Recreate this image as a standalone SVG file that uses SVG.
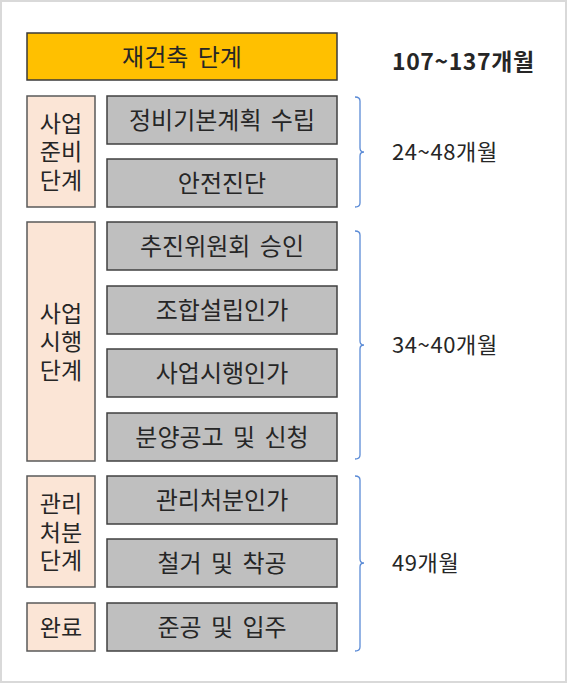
<svg xmlns="http://www.w3.org/2000/svg" width="568" height="684" viewBox="0 0 568 684">
<style>
text{font-family:"Noto Sans CJK KR","Malgun Gothic","Liberation Sans",sans-serif;fill:#262626;font-size:24px;word-spacing:4px}
.c{text-anchor:middle}
.st{font-size:23px}
.yel{fill:#FFC000;stroke:#3a3a3a;stroke-width:1.5}
.stage{fill:#FBE5D6;stroke:#595959;stroke-width:1.5}
.step{fill:#BFBFBF;stroke:#404040;stroke-width:1.5}
.br{fill:none;stroke:#5B8BD6;stroke-width:1.3}
.dur{font-size:22px;letter-spacing:0.6px}
</style>
<rect x="1" y="1" width="565" height="681" fill="#ffffff" stroke="#d9d9d9" stroke-width="2"/>

<g id="title">
<rect class="yel" x="27" y="33" width="310" height="47"/>
<text class="c" x="182" y="66">재건축 단계</text>
</g>
<text id="total" x="392" y="70" style="font-weight:bold;font-size:23px;letter-spacing:0.6px">107~137개월</text>

<g id="stage1">
<rect class="stage" x="27" y="96" width="68" height="111"/>
<text class="c st" x="61" y="131.5"><tspan x="61">사업</tspan><tspan x="61" dy="28.5">준비</tspan><tspan x="61" dy="28.5">단계</tspan></text>
</g>
<g id="s1a"><rect class="step" x="107" y="96" width="230" height="48"/><text class="c" x="222" y="129">정비기본계획 수립</text></g>
<g id="s1b"><rect class="step" x="107" y="159" width="230" height="48"/><text class="c" x="222" y="192">안전진단</text></g>

<g id="stage2">
<rect class="stage" x="27" y="222" width="68" height="239"/>
<text class="c st" x="61" y="321.5"><tspan x="61">사업</tspan><tspan x="61" dy="28.5">시행</tspan><tspan x="61" dy="28.5">단계</tspan></text>
</g>
<g id="s2a"><rect class="step" x="107" y="222" width="230" height="48"/><text class="c" x="222" y="255">추진위원회 승인</text></g>
<g id="s2b"><rect class="step" x="107" y="286" width="230" height="48"/><text class="c" x="222" y="319">조합설립인가</text></g>
<g id="s2c"><rect class="step" x="107" y="349" width="230" height="48"/><text class="c" x="222" y="382">사업시행인가</text></g>
<g id="s2d"><rect class="step" x="107" y="413" width="230" height="48"/><text class="c" x="222" y="446">분양공고 및 신청</text></g>

<g id="stage3">
<rect class="stage" x="27" y="476" width="68" height="111"/>
<text class="c st" x="61" y="512"><tspan x="61">관리</tspan><tspan x="61" dy="28.5">처분</tspan><tspan x="61" dy="28.5">단계</tspan></text>
</g>
<g id="s3a"><rect class="step" x="107" y="476" width="230" height="48"/><text class="c" x="222" y="509">관리처분인가</text></g>
<g id="s3b"><rect class="step" x="107" y="539" width="230" height="48"/><text class="c" x="222" y="572">철거 및 착공</text></g>

<g id="stage4">
<rect class="stage" x="27" y="603" width="68" height="48"/>
<text class="c st" x="61" y="635.5">완료</text>
</g>
<g id="s4a"><rect class="step" x="107" y="603" width="230" height="48"/><text class="c" x="222" y="636">준공 및 입주</text></g>

<g id="connectors">
<path class="br" d="M355,97 Q360,97 360,101 L360,148 Q360,152 364,152 Q360,152 360,156 L360,203 Q360,207 355,207"/>
<path class="br" d="M355,231 Q360,231 360,235 L360,341 Q360,345 364,345 Q360,345 360,349 L360,455 Q360,459 355,459"/>
<path class="br" d="M355,476 Q360,476 360,480 L360,559 Q360,563 364,563 Q360,563 360,567 L360,647 Q360,651 355,651"/>
</g>
<text class="dur" x="392" y="160">24~48개월</text>
<text class="dur" x="392" y="353">34~40개월</text>
<text class="dur" x="392" y="571">49개월</text>
</svg>
